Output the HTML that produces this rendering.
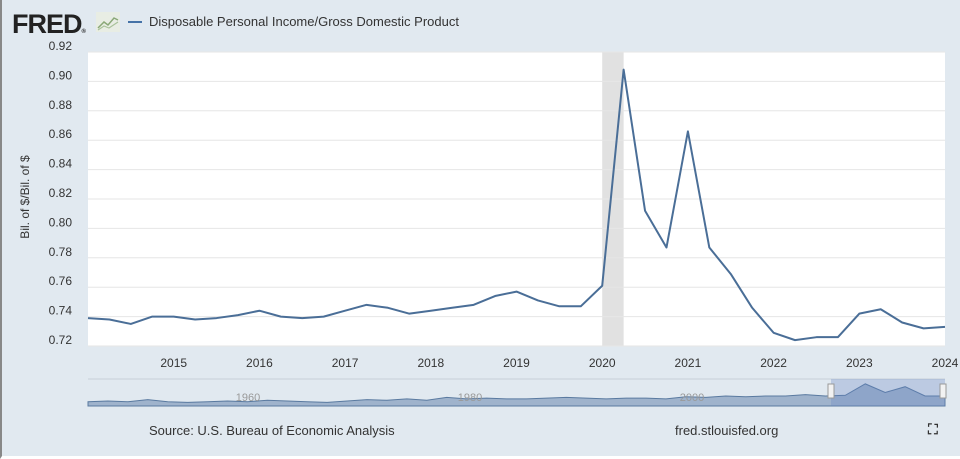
<!DOCTYPE html>
<html><head><meta charset="utf-8"><style>
body{margin:0;width:960px;height:459px;overflow:hidden;background:#e1e9f0;font-family:"Liberation Sans",sans-serif;}
#wrap{position:relative;width:958px;height:456px;border-left:2px solid #888;border-bottom:3px solid #fff;}
.t{position:absolute;color:#333;}
</style></head><body>
<div id="wrap">
<div class="t" style="left:10px;top:9px;font-size:27px;font-weight:bold;letter-spacing:-1px;color:#222;">FRED<span style="font-size:6px">®</span></div>
<svg style="position:absolute;left:94px;top:12px" width="24" height="20"><rect width="24" height="20" fill="#e8ede4"/><polyline points="2,16 8,10 12,13 18,6 22,8" fill="none" stroke="#8aa877" stroke-width="1.5"/><polyline points="2,18 8,14 13,16 22,10" fill="none" stroke="#a9c29a" stroke-width="1.2"/></svg>
<div style="position:absolute;left:126px;top:21px;width:14px;height:2px;background:#4572a7"></div>
<div class="t" style="left:147px;top:14px;font-size:13px;color:#333">Disposable Personal Income/Gross Domestic Product</div>
<svg id="chart" width="958" height="456" style="position:absolute;left:0;top:0"></svg>
<div class="t" style="left:-32px;top:190px;width:110px;text-align:center;transform:rotate(-90deg);font-size:12px;color:#333">Bil. of $/Bil. of $</div>
<div class="t" style="left:147px;top:423px;font-size:13px">Source: U.S. Bureau of Economic Analysis</div>
<div class="t" style="left:673px;top:423px;font-size:13px">fred.stlouisfed.org</div>
<div class="t" style="left:926px;top:421px;font-size:14px;font-weight:bold">⛶</div>
</div>
<script>
const quarters=["2014Q1","2014Q2","2014Q3","2014Q4","2015Q1","2015Q2","2015Q3","2015Q4","2016Q1","2016Q2","2016Q3","2016Q4","2017Q1","2017Q2","2017Q3","2017Q4","2018Q1","2018Q2","2018Q3","2018Q4","2019Q1","2019Q2","2019Q3","2019Q4","2020Q1","2020Q2","2020Q3","2020Q4","2021Q1","2021Q2","2021Q3","2021Q4","2022Q1","2022Q2","2022Q3","2022Q4","2023Q1","2023Q2","2023Q3","2023Q4","2024Q1"];
const values=[0.739,0.738,0.735,0.740,0.740,0.738,0.739,0.741,0.744,0.740,0.739,0.740,0.744,0.748,0.746,0.742,0.744,0.746,0.748,0.754,0.757,0.751,0.747,0.747,0.761,0.908,0.812,0.787,0.866,0.787,0.769,0.746,0.729,0.724,0.726,0.726,0.742,0.745,0.736,0.732,0.733];
const yTicks=[0.72,0.74,0.76,0.78,0.80,0.82,0.84,0.86,0.88,0.90,0.92];
const xTicks=[2015,2016,2017,2018,2019,2020,2021,2022,2023,2024];
const recession=[2020.0,2020.25];
const navValues=[0.66,0.67,0.66,0.69,0.66,0.65,0.66,0.67,0.66,0.68,0.67,0.66,0.65,0.67,0.69,0.68,0.70,0.68,0.72,0.70,0.71,0.70,0.70,0.71,0.72,0.71,0.70,0.71,0.71,0.70,0.73,0.72,0.74,0.73,0.74,0.74,0.76,0.74,0.75,0.91,0.79,0.87,0.74,0.74];
const NS="http://www.w3.org/2000/svg",svg=document.getElementById('chart');
const X0=86,X1=943,Y0=52,Y1=346;
const xs=t=>X0+(t-2014)/(2024-2014)*(X1-X0);
const ys=v=>Y1-(v-0.72)/(0.92-0.72)*(Y1-Y0);
function mk(tag,attrs){const e=document.createElementNS(NS,tag);for(const k in attrs)e.setAttribute(k,attrs[k]);svg.appendChild(e);return e;}
let e=mk('rect',{x:X0,y:Y0,width:X1-X0,height:Y1-Y0,fill:'#fff'});


e=mk('rect',{x:xs(recession[0]),y:Y0,width:xs(recession[1])-xs(recession[0]),height:Y1-Y0,fill:'#e1e1e1'});


yTicks.forEach(v=>{
 const g=mk('line',{x1:X0,x2:X1,y1:ys(v),y2:ys(v),stroke:'#e6e6e6','stroke-width':1});
 
 
 const t=mk('text',{x:70,y:ys(v)-2,'text-anchor':'end','font-size':12,fill:'#333'});
 t.textContent=v.toFixed(2);
 
 
});
xTicks.forEach(yr=>{
 const t=mk('text',{x:xs(yr),y:367,'text-anchor':'middle','font-size':12,fill:'#333'});
 t.textContent=yr;
 
 
});
const qt=q=>+q.slice(0,4)+(+q.slice(5)-1)/4;
const pts=quarters.map((q,i)=>xs(qt(q))+','+ys(values[i])).join(' ');
e=mk('polyline',{points:pts,fill:'none',stroke:'#4a6e97','stroke-width':2,'stroke-linejoin':'round'});


// navigator
const NY0=381,NY1=406;
e=mk('line',{x1:X0,x2:X1,y1:NY0-2,y2:NY0-2,stroke:'#c8d0d8'});


const nx=i=>X0+i/(navValues.length-1)*(X1-X0);
const ny=v=>NY1-(v-0.6)/(0.95-0.6)*(NY1-NY0);
let d='M'+X0+','+NY1+' '+navValues.map((v,i)=>'L'+nx(i)+','+ny(v)).join(' ')+' L'+X1+','+NY1+'Z';
e=mk('path',{d:d,fill:'#9fb3cc',stroke:'#5a7aa0','stroke-width':1});


e=mk('rect',{x:829,y:NY0-2,width:X1-829,height:NY1-NY0+2,fill:'rgba(102,133,194,0.3)'});


[829,X1-2].forEach(x=>{const h=mk('rect',{x:x-3,y:384,width:6,height:14,fill:'#f2f2f2',stroke:'#999'});
 
 });
[[1960,246],[1980,468],[2000,690]].forEach(([l,x])=>{const t=mk('text',{x:x,y:401,'text-anchor':'middle','font-size':11,fill:'#999'});t.textContent=l;
 
 });
</script>
</body></html>
